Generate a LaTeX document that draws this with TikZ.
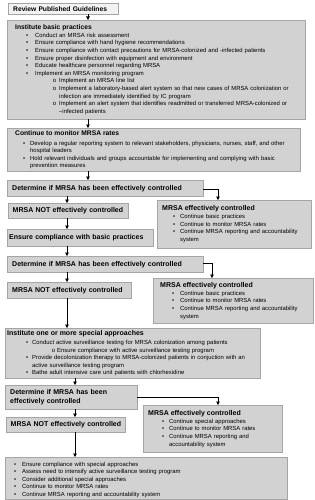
\documentclass[tikz,border=0pt]{standalone}
\usepackage{fontspec}
\setmainfont{Liberation Sans}
\usepackage{enumitem}
\usetikzlibrary{arrows.meta,shadows}
\definecolor{boxfill}{RGB}{210,210,210}
\definecolor{boxline}{RGB}{165,165,165}
\newlist{blist}{itemize}{3}
\setlist[blist]{label=\textbullet,leftmargin=20pt,labelsep=7pt,nosep}
\newlist{olist}{itemize}{3}
\setlist[olist]{label=o,leftmargin=24pt,labelsep=3pt,nosep}
\newcommand{\bodyfnt}{\fontsize{5.9}{7.6}\selectfont}
\newcommand{\bighd}{\fontsize{7.0}{8.4}\selectfont\bfseries}
\newcommand{\smallhd}{\fontsize{6.7}{8}\selectfont\bfseries}
\tikzset{
  stepbox/.style={anchor=north west,draw=boxline,fill=boxfill,line width=.4pt,
    inner xsep=5pt,inner ysep=1pt,align=left,font=\bodyfnt,
    drop shadow={shadow xshift=1.2pt,shadow yshift=-1.2pt,fill=black!85,opacity=1}},
  startbox/.style={stepbox,fill=black!5,font=\smallhd},
  decbox/.style={stepbox,font=\bighd},
  link/.style={-{Triangle[length=3.5pt,width=3.6pt]},line width=.7pt}
}

\begin{document}
\begin{tikzpicture}[x=1pt,y=-1pt]
\useasboundingbox (0,0) rectangle (314,500);
\node[startbox,text width=100pt,minimum height=11pt,inner ysep=0pt] (review) at (8,3) {Review Published Guidelines};
\node[stepbox,inner xsep=3pt,text width=292pt,minimum height=99pt] (basic) at (7,20) {%
\hspace*{5pt}{\smallhd Institute basic practices}
\begin{blist}[leftmargin=25pt]
\item Conduct an MRSA risk assessment
\item Ensure compliance with hand hygiene recommendations
\item Ensure compliance with contact precautions for MRSA-colonized and -infected patients
\item Ensure proper disinfection with equipment and environment
\item Educate healthcare personnel regarding MRSA
\item Implement an MRSA monitoring program
\begin{olist}
\item Implement an MRSA line list
\item Implement a laboratory-based alert system so that new cases of MRSA colonization or\newline infection are immediately identified by IC program
\item Implement an alert system that identifies readmitted or transferred MRSA-colonized or\newline --infected patients
\end{olist}
\end{blist}};
\node[stepbox,inner xsep=3pt,text width=287pt,minimum height=43pt] (monitor) at (7,128) {%
\hspace*{5pt}{\smallhd Continue to monitor MRSA rates}\par\vspace{2.5pt}
\begin{blist}[leftmargin=20pt,labelsep=5pt]
\item Develop a regular reporting system to relevant stakeholders, physicians, nurses, staff, and other\newline hospital leaders
\item Hold relevant individuals and groups accountable for implementing and complying with basic\newline prevention measures
\end{blist}};
\node[decbox,text width=186pt,minimum height=16pt] (det1) at (7,180) {Determine if MRSA has been effectively controlled};
\node[decbox,inner xsep=3pt,text width=114pt,minimum height=15pt] (not1) at (8,203) {\hspace*{1.5pt}MRSA NOT effectively controlled};
\node[stepbox,inner xsep=5pt,text width=144pt,minimum height=48pt] (ok1) at (157,200) {%
{\bighd MRSA effectively controlled}\par\vspace{.5pt}
\begin{blist}[leftmargin=18pt,labelsep=5pt]
\item Continue basic practices
\item Continue to monitor MRSA rates
\item Continue MRSA reporting and accountability\newline system
\end{blist}};
\node[decbox,inner xsep=2pt,text width=142pt,minimum height=17pt] (ensure) at (7,229) {Ensure compliance with basic practices};
\node[decbox,text width=186pt,minimum height=16pt] (det2) at (7,256) {Determine if MRSA has been effectively controlled};
\node[decbox,inner xsep=5pt,text width=114pt,minimum height=16pt] (not2) at (7,282) {MRSA NOT effectively controlled};
\node[stepbox,inner xsep=7pt,text width=146pt,minimum height=45pt] (ok2) at (153,278) {%
{\bighd MRSA effectively controlled}\par\vspace{.5pt}
\begin{blist}[leftmargin=20pt,labelsep=6pt]
\item Continue basic practices
\item Continue to monitor MRSA rates
\item Continue MRSA reporting and accountability\newline system
\end{blist}};
\node[stepbox,inner xsep=2pt,text width=251pt,minimum height=50pt] (special) at (5,328) {%
{\bighd Institute one or more special approaches}\par\vspace{1.5pt}
\begin{blist}[leftmargin=25pt,labelsep=4pt]
\item Conduct active surveillance testing for MRSA colonization among patients
\begin{olist}[leftmargin=25pt,labelsep=2pt]
\item Ensure compliance with active surveillance testing program
\end{olist}
\item Provide decolonization therapy to MRSA-colonized patients in conjuction with an\newline active surveillance testing program
\item Bathe adult intensive care unit patients with chlorhexidine
\end{blist}};
\node[decbox,inner xsep=5pt,text width=122pt,minimum height=24pt] (det3) at (5,385) {Determine if MRSA has been\\effectively controlled};
\node[decbox,inner xsep=3pt,text width=113pt,minimum height=15pt] (not3) at (6,417) {\hspace*{1.5pt}MRSA NOT effectively controlled};
\node[stepbox,inner xsep=5pt,text width=129pt,minimum height=47pt] (ok3) at (143,405) {%
{\bighd MRSA effectively controlled}\par\vspace{.5pt}
\begin{blist}[leftmargin=21pt,labelsep=5pt]
\item Continue special approaches
\item Continue to monitor MRSA rates
\item Continue MRSA reporting and\newline accountability system
\end{blist}};
\node[stepbox,inner xsep=2pt,text width=278pt,minimum height=42pt] (final) at (5,457) {%
\begin{blist}[leftmargin=15pt,labelsep=6pt]
\item Ensure compliance with special approaches
\item Assess need to intensify active surveillance testing program
\item Consider additional special approaches
\item Continue to monitor MRSA rates
\item Continue MRSA reporting and accountability system
\end{blist}};
\draw[link] (review.south -| 88,0) -- (basic.north -| 88,0);
\draw[link] (basic.south -| 88,0) -- (monitor.north -| 88,0);
\draw[link] (monitor.south -| 88,0) -- (det1.north -| 88,0);
\draw[link] (det1.south -| 67,0) -- (not1.north -| 67,0);
\draw[link] (det1.east |- 0,189) -| (ok1.north -| 218,0);
\draw[link] (not1.south -| 67,0) -- (ensure.north -| 67,0);
\draw[link] (ensure.south -| 67,0) -- (det2.north -| 67,0);
\draw[link] (det2.south -| 67,0) -- (not2.north -| 67,0);
\draw[link] (det2.east |- 0,263) -| (ok2.north -| 212,0);
\draw[link] (not2.south -| 67,0) -- (special.north -| 67,0);
\draw[link] (special.south -| 75,0) -- (det3.north -| 75,0);
\draw[link] (det3.south -| 75,0) -- (not3.north -| 75,0);
\draw[link] (det3.east |- 0,397) -| (ok3.north -| 218,0);
\draw[link] (not3.south -| 75,0) -- (final.north -| 75,0);
\end{tikzpicture}
\end{document}
